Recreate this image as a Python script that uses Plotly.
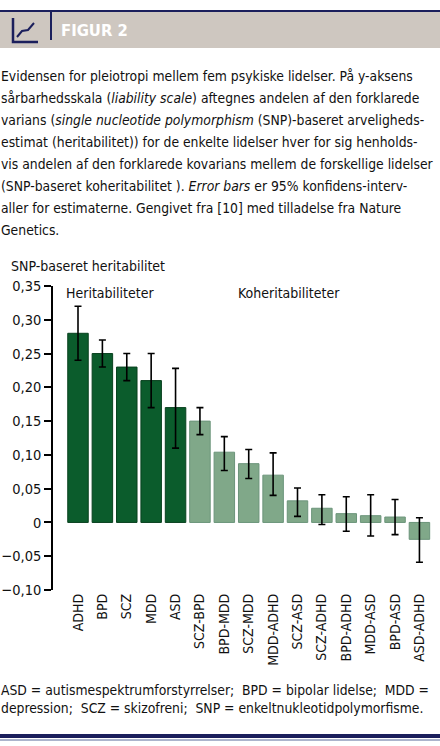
import plotly.graph_objects as go

# data
categories = ['ADHD', 'BPD', 'SCZ', 'MDD', 'ASD',
              'SCZ-BPD', 'BPD-MDD', 'SCZ-MDD', 'MDD-ADHD', 'SCZ-ASD',
              'SCZ-ADHD', 'BPD-ADHD', 'MDD-ASD', 'BPD-ASD', 'ASD-ADHD']
values = [0.28, 0.25, 0.23, 0.21, 0.17,
          0.15, 0.104, 0.087, 0.070, 0.032,
          0.021, 0.013, 0.010, 0.008, -0.025]
err_low = [0.24, 0.23, 0.21, 0.17, 0.11,
           0.13, 0.077, 0.065, 0.040, 0.009,
           -0.003, -0.013, -0.020, -0.018, -0.059]
err_high = [0.32, 0.27, 0.25, 0.25, 0.228,
            0.17, 0.127, 0.108, 0.103, 0.051,
            0.041, 0.038, 0.041, 0.034, 0.007]
n_herit = 5

ytick_vals = [-0.10, -0.05, 0, 0.05, 0.10, 0.15, 0.20, 0.25, 0.30, 0.35]
ytick_text = ['\u22120,10', '\u22120,05', '0', '0,05', '0,10', '0,15', '0,20', '0,25', '0,30', '0,35']

caption = [
    'Evidensen for pleiotropi mellem fem psykiske lidelser. På y-aksens',
    'sårbarhedsskala (<i>liability scale</i>) aftegnes andelen af den forklarede',
    'varians (<i>single nucleotide polymorphism</i> (SNP)-baseret arveligheds-',
    'estimat (heritabilitet)) for de enkelte lidelser hver for sig henholds-',
    'vis andelen af den forklarede kovarians mellem de forskellige lidelser',
    '(SNP-baseret koheritabilitet ). <i>Error bars</i> er 95% konfidens-interv-',
    'aller for estimaterne. Gengivet fra [10] med tilladelse fra Nature',
    'Genetics.',
]
footnote = [
    'ASD = autismespektrumforstyrrelser;  BPD = bipolar lidelse;  MDD =',
    'depression;  SCZ = skizofreni;  SNP = enkeltnukleotidpolymorfisme.',
]

FONT = 'DejaVu Sans Condensed, Liberation Sans Narrow, Roboto, sans-serif'
DARK = '#0b5c2c'
LIGHT = '#80a889'
NAVY = '#1b1f5c'

W, H = 440, 746
L, R, T, B = 53, 8, 286, 156
pw, ph = W - L - R, H - T - B


def px(x, y):
    # pixel position -> paper coords
    return (x - L) / pw, (H - B - y) / ph


def add_text(text, x, y, size=14, color='#111', anchor='left'):
    ax, ay = px(x, y)
    annotations.append(dict(text=text, x=ax, y=ay, xref='paper', yref='paper',
                            xanchor=anchor, yanchor='middle', showarrow=False,
                            font=dict(family=FONT, size=size, color=color)))


def add_line(x0, y0, x1, y1, color, width):
    a, b = px(x0, y0)
    c, d = px(x1, y1)
    shapes.append(dict(type='line', xref='paper', yref='paper', x0=a, y0=b, x1=c, y1=d,
                       line=dict(color=color, width=width)))


colors = [DARK if i < n_herit else LIGHT for i in range(len(categories))]
lines = ['#08401e' if i < n_herit else '#6b947a' for i in range(len(categories))]

fig = go.Figure()
fig.add_trace(go.Bar(
    x=categories, y=values,
    marker=dict(color=colors, line=dict(color=lines, width=1)),
    error_y=dict(type='data', symmetric=False,
                 array=[h - v for h, v in zip(err_high, values)],
                 arrayminus=[v - l for l, v in zip(err_low, values)],
                 color='black', thickness=1.6, width=3.5),
    showlegend=False,
))

annotations = []
shapes = []

# header band
x0, y1 = px(0, 12)
x1, y0 = px(W, 48)
shapes.append(dict(type='rect', xref='paper', yref='paper', x0=x0, x1=x1, y0=y0, y1=y1,
                   fillcolor='#cec7c0', line=dict(width=0), layer='below'))
add_line(0, 11, W, 11, NAVY, 2)
# icon
ia, ib = px(13, 18)
ic, id_ = px(13, 42)
ie, ig = px(38, 42)
shapes.append(dict(type='path', xref='paper', yref='paper',
                   path=f'M {ia},{ib} L {ic},{id_} L {ie},{ig}',
                   line=dict(color=NAVY, width=2.5)))
pts = [px(17, 37), px(22, 31), px(28, 30), px(34, 23)]
shapes.append(dict(type='path', xref='paper', yref='paper',
                   path='M ' + ' L '.join(f'{a},{b}' for a, b in pts),
                   line=dict(color=NAVY, width=2)))
add_line(51, 12, 51, 40, NAVY, 2)
add_text('<b>FIGUR 2</b>', 59, 31, size=16.5, color='white')

# caption
for i, line in enumerate(caption):
    add_text(line, -1, 76 + i * 22, size=13.8)

# axis title and group labels
add_text('SNP-baseret heritabilitet', 9, 266)
add_text('Heritabiliteter', 64, 293)
add_text('Koheritabiliteter', 236, 293)

# footnote
for i, line in enumerate(footnote):
    add_text(line, -1, 690 + i * 18, size=13.8)

# bottom double line
add_line(0, 736, W, 736, NAVY, 4)
add_line(0, 740, W, 740, '#5a6a9a', 1)

fig.update_layout(
    width=W, height=H,
    margin=dict(l=L, r=R, t=T, b=B, pad=0),
    paper_bgcolor='white', plot_bgcolor='white',
    bargap=0.16,
    font=dict(family=FONT, size=14, color='#111'),
    xaxis=dict(range=[-1.025, 14.515], tickangle=-90, showline=False, ticks='',
               showgrid=False, tickfont=dict(size=14), automargin=False),
    yaxis=dict(range=[-0.10, 0.35], tickvals=ytick_vals, ticktext=ytick_text,
               showline=True, linecolor='black', linewidth=1.5,
               ticks='outside', ticklen=7, tickcolor='black', tickwidth=1.5,
               showgrid=False, zeroline=False, tickfont=dict(size=14.5),
               automargin=False),
    annotations=annotations,
    shapes=shapes,
)

fig.write_html('out.html', config={'displayModeBar': False},
               post_script="document.body.style.margin='0';")
